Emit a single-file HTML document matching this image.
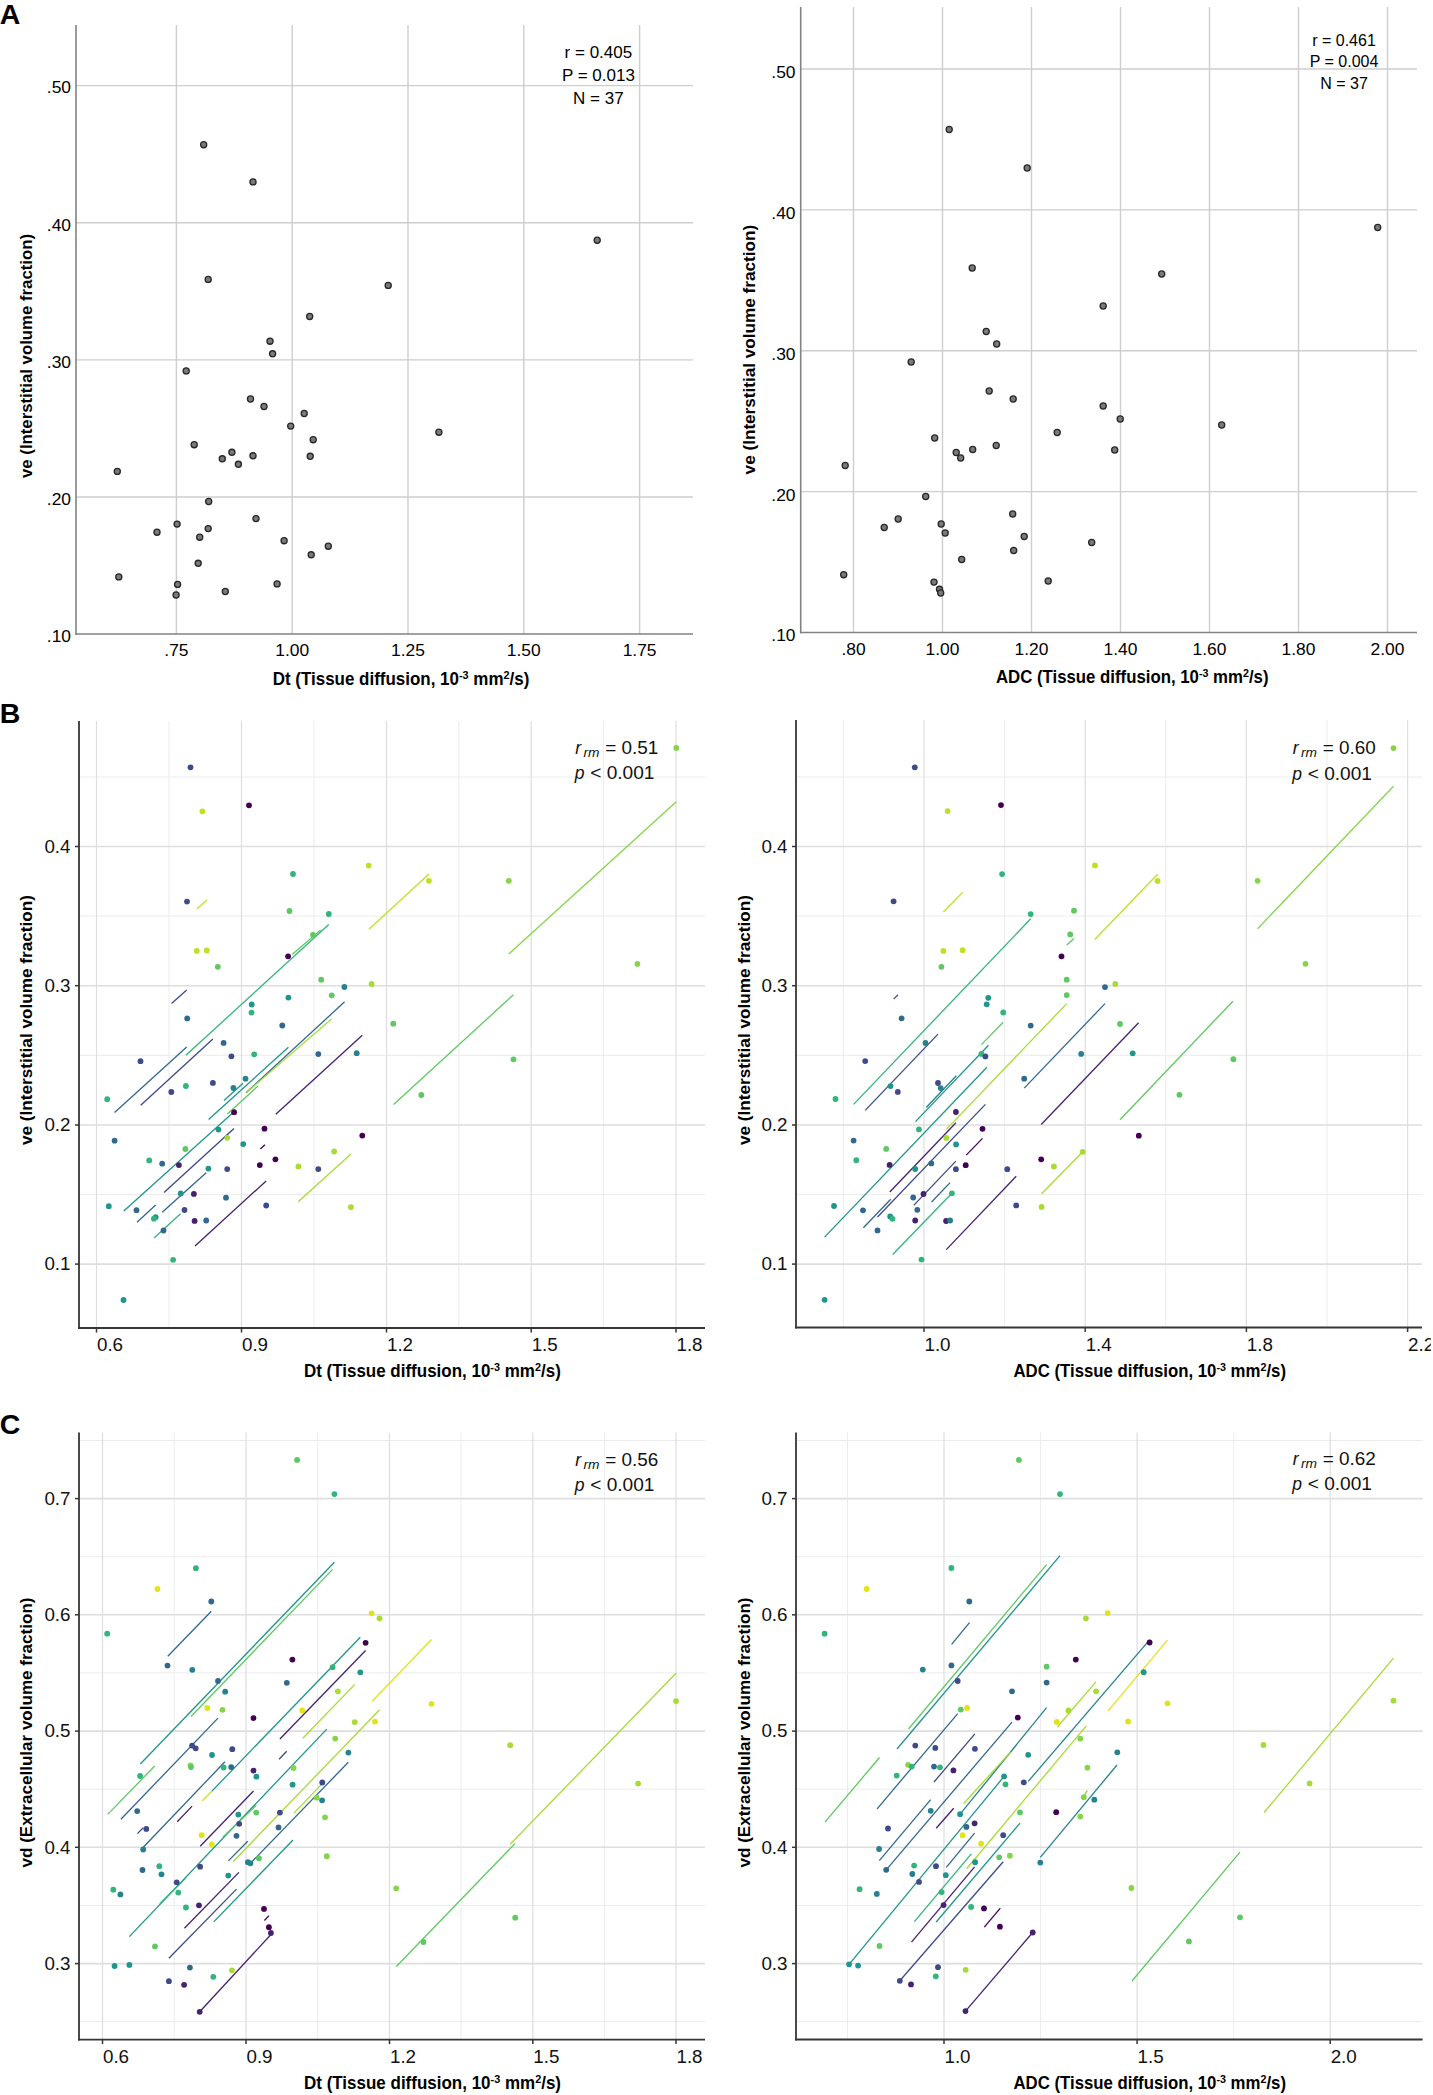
<!DOCTYPE html><html><head><meta charset="utf-8"><title>Figure</title>
<style>html,body{margin:0;padding:0;background:#fff;width:1433px;height:2095px;overflow:hidden;}svg{display:block;font-family:"Liberation Sans", sans-serif;}</style></head><body>
<svg width="1433" height="2095" viewBox="0 0 1433 2095">
<rect width="1433" height="2095" fill="#fff"/>
<text x="-0.3" y="23.9" font-size="28.5" font-weight="bold" fill="#000">A</text>
<text x="-0.2" y="722.9" font-size="28.5" font-weight="bold" fill="#000">B</text>
<text x="-0.2" y="1434.3" font-size="28.5" font-weight="bold" fill="#000">C</text>
<line x1="76" y1="85.6" x2="693" y2="85.6" stroke="#cecece" stroke-width="1.4"/>
<line x1="76" y1="222.7" x2="693" y2="222.7" stroke="#cecece" stroke-width="1.4"/>
<line x1="76" y1="359.9" x2="693" y2="359.9" stroke="#cecece" stroke-width="1.4"/>
<line x1="76" y1="497" x2="693" y2="497" stroke="#cecece" stroke-width="1.4"/>
<line x1="176.4" y1="25" x2="176.4" y2="634" stroke="#cecece" stroke-width="1.4"/>
<line x1="292.2" y1="25" x2="292.2" y2="634" stroke="#cecece" stroke-width="1.4"/>
<line x1="408" y1="25" x2="408" y2="634" stroke="#cecece" stroke-width="1.4"/>
<line x1="523.8" y1="25" x2="523.8" y2="634" stroke="#cecece" stroke-width="1.4"/>
<line x1="639.6" y1="25" x2="639.6" y2="634" stroke="#cecece" stroke-width="1.4"/>
<line x1="76" y1="25" x2="76" y2="634.7" stroke="#828282" stroke-width="1.6"/>
<line x1="75.3" y1="634" x2="693" y2="634" stroke="#828282" stroke-width="1.6"/>
<text x="71" y="93.4" font-size="17.4" text-anchor="end" fill="#000">.50</text>
<text x="71" y="230.5" font-size="17.4" text-anchor="end" fill="#000">.40</text>
<text x="71" y="367.7" font-size="17.4" text-anchor="end" fill="#000">.30</text>
<text x="71" y="504.8" font-size="17.4" text-anchor="end" fill="#000">.20</text>
<text x="71" y="641.8" font-size="17.4" text-anchor="end" fill="#000">.10</text>
<text x="176.4" y="655.8" font-size="17.4" text-anchor="middle" fill="#000">.75</text>
<text x="292.2" y="655.8" font-size="17.4" text-anchor="middle" fill="#000">1.00</text>
<text x="408" y="655.8" font-size="17.4" text-anchor="middle" fill="#000">1.25</text>
<text x="523.8" y="655.8" font-size="17.4" text-anchor="middle" fill="#000">1.50</text>
<text x="639.6" y="655.8" font-size="17.4" text-anchor="middle" fill="#000">1.75</text>
<circle cx="203.7" cy="144.7" r="3.05" fill="#7a7a7a" stroke="#262626" stroke-width="1.3"/>
<circle cx="253" cy="181.9" r="3.05" fill="#7a7a7a" stroke="#262626" stroke-width="1.3"/>
<circle cx="597.2" cy="240.2" r="3.05" fill="#7a7a7a" stroke="#262626" stroke-width="1.3"/>
<circle cx="208.2" cy="279.4" r="3.05" fill="#7a7a7a" stroke="#262626" stroke-width="1.3"/>
<circle cx="388.2" cy="285.4" r="3.05" fill="#7a7a7a" stroke="#262626" stroke-width="1.3"/>
<circle cx="309.7" cy="316.5" r="3.05" fill="#7a7a7a" stroke="#262626" stroke-width="1.3"/>
<circle cx="270" cy="341.2" r="3.05" fill="#7a7a7a" stroke="#262626" stroke-width="1.3"/>
<circle cx="272.6" cy="353.8" r="3.05" fill="#7a7a7a" stroke="#262626" stroke-width="1.3"/>
<circle cx="186.2" cy="370.9" r="3.05" fill="#7a7a7a" stroke="#262626" stroke-width="1.3"/>
<circle cx="250.5" cy="399" r="3.05" fill="#7a7a7a" stroke="#262626" stroke-width="1.3"/>
<circle cx="264" cy="406.5" r="3.05" fill="#7a7a7a" stroke="#262626" stroke-width="1.3"/>
<circle cx="304.2" cy="413.5" r="3.05" fill="#7a7a7a" stroke="#262626" stroke-width="1.3"/>
<circle cx="290.7" cy="426.1" r="3.05" fill="#7a7a7a" stroke="#262626" stroke-width="1.3"/>
<circle cx="438.9" cy="432.2" r="3.05" fill="#7a7a7a" stroke="#262626" stroke-width="1.3"/>
<circle cx="313.2" cy="439.7" r="3.05" fill="#7a7a7a" stroke="#262626" stroke-width="1.3"/>
<circle cx="194.2" cy="444.7" r="3.05" fill="#7a7a7a" stroke="#262626" stroke-width="1.3"/>
<circle cx="231.9" cy="452.3" r="3.05" fill="#7a7a7a" stroke="#262626" stroke-width="1.3"/>
<circle cx="222.3" cy="458.8" r="3.05" fill="#7a7a7a" stroke="#262626" stroke-width="1.3"/>
<circle cx="253" cy="455.8" r="3.05" fill="#7a7a7a" stroke="#262626" stroke-width="1.3"/>
<circle cx="310.2" cy="456.3" r="3.05" fill="#7a7a7a" stroke="#262626" stroke-width="1.3"/>
<circle cx="238.4" cy="464.3" r="3.05" fill="#7a7a7a" stroke="#262626" stroke-width="1.3"/>
<circle cx="117.3" cy="471.4" r="3.05" fill="#7a7a7a" stroke="#262626" stroke-width="1.3"/>
<circle cx="208.7" cy="501.5" r="3.05" fill="#7a7a7a" stroke="#262626" stroke-width="1.3"/>
<circle cx="256" cy="518.6" r="3.05" fill="#7a7a7a" stroke="#262626" stroke-width="1.3"/>
<circle cx="177.1" cy="524.1" r="3.05" fill="#7a7a7a" stroke="#262626" stroke-width="1.3"/>
<circle cx="157" cy="532.2" r="3.05" fill="#7a7a7a" stroke="#262626" stroke-width="1.3"/>
<circle cx="208.2" cy="528.6" r="3.05" fill="#7a7a7a" stroke="#262626" stroke-width="1.3"/>
<circle cx="199.7" cy="537.2" r="3.05" fill="#7a7a7a" stroke="#262626" stroke-width="1.3"/>
<circle cx="284.1" cy="540.7" r="3.05" fill="#7a7a7a" stroke="#262626" stroke-width="1.3"/>
<circle cx="328.3" cy="546.2" r="3.05" fill="#7a7a7a" stroke="#262626" stroke-width="1.3"/>
<circle cx="311.2" cy="554.8" r="3.05" fill="#7a7a7a" stroke="#262626" stroke-width="1.3"/>
<circle cx="198.2" cy="563.3" r="3.05" fill="#7a7a7a" stroke="#262626" stroke-width="1.3"/>
<circle cx="118.8" cy="576.9" r="3.05" fill="#7a7a7a" stroke="#262626" stroke-width="1.3"/>
<circle cx="177.6" cy="584.4" r="3.05" fill="#7a7a7a" stroke="#262626" stroke-width="1.3"/>
<circle cx="277.1" cy="583.9" r="3.05" fill="#7a7a7a" stroke="#262626" stroke-width="1.3"/>
<circle cx="225.3" cy="591.5" r="3.05" fill="#7a7a7a" stroke="#262626" stroke-width="1.3"/>
<circle cx="176.1" cy="595" r="3.05" fill="#7a7a7a" stroke="#262626" stroke-width="1.3"/>
<text x="598.4" y="57.7" font-size="17" text-anchor="middle" fill="#000">r = 0.405</text>
<text x="598.4" y="80.7" font-size="17" text-anchor="middle" fill="#000">P = 0.013</text>
<text x="598.4" y="103.8" font-size="17" text-anchor="middle" fill="#000">N = 37</text>
<text x="272.7" y="685.3" font-size="18" font-weight="bold" textLength="256.6" lengthAdjust="spacingAndGlyphs" fill="#000">Dt (Tissue diffusion, 10<tspan dy="-6.5" font-size="11.5">-3</tspan><tspan dy="6.5"> mm</tspan><tspan dy="-6.5" font-size="11.5">2</tspan><tspan dy="6.5">/s)</tspan></text>
<text transform="translate(31.7,478) rotate(-90)" x="0" y="0" font-size="17.2" font-weight="bold" textLength="244" lengthAdjust="spacingAndGlyphs" fill="#000">ve (Interstitial volume fraction)</text>
<line x1="800.7" y1="69" x2="1417" y2="69" stroke="#cecece" stroke-width="1.4"/>
<line x1="800.7" y1="209.9" x2="1417" y2="209.9" stroke="#cecece" stroke-width="1.4"/>
<line x1="800.7" y1="350.8" x2="1417" y2="350.8" stroke="#cecece" stroke-width="1.4"/>
<line x1="800.7" y1="491.6" x2="1417" y2="491.6" stroke="#cecece" stroke-width="1.4"/>
<line x1="853.5" y1="7" x2="853.5" y2="632.5" stroke="#cecece" stroke-width="1.4"/>
<line x1="942.5" y1="7" x2="942.5" y2="632.5" stroke="#cecece" stroke-width="1.4"/>
<line x1="1031.5" y1="7" x2="1031.5" y2="632.5" stroke="#cecece" stroke-width="1.4"/>
<line x1="1120.5" y1="7" x2="1120.5" y2="632.5" stroke="#cecece" stroke-width="1.4"/>
<line x1="1209.5" y1="7" x2="1209.5" y2="632.5" stroke="#cecece" stroke-width="1.4"/>
<line x1="1298.5" y1="7" x2="1298.5" y2="632.5" stroke="#cecece" stroke-width="1.4"/>
<line x1="1387.5" y1="7" x2="1387.5" y2="632.5" stroke="#cecece" stroke-width="1.4"/>
<line x1="800.7" y1="7" x2="800.7" y2="633.2" stroke="#828282" stroke-width="1.6"/>
<line x1="800" y1="632.5" x2="1417" y2="632.5" stroke="#828282" stroke-width="1.6"/>
<text x="795.5" y="77.9" font-size="17.4" text-anchor="end" fill="#000">.50</text>
<text x="795.5" y="218.8" font-size="17.4" text-anchor="end" fill="#000">.40</text>
<text x="795.5" y="359.7" font-size="17.4" text-anchor="end" fill="#000">.30</text>
<text x="795.5" y="500.5" font-size="17.4" text-anchor="end" fill="#000">.20</text>
<text x="795.5" y="641.4" font-size="17.4" text-anchor="end" fill="#000">.10</text>
<text x="853.5" y="655" font-size="17.4" text-anchor="middle" fill="#000">.80</text>
<text x="942.5" y="655" font-size="17.4" text-anchor="middle" fill="#000">1.00</text>
<text x="1031.5" y="655" font-size="17.4" text-anchor="middle" fill="#000">1.20</text>
<text x="1120.5" y="655" font-size="17.4" text-anchor="middle" fill="#000">1.40</text>
<text x="1209.5" y="655" font-size="17.4" text-anchor="middle" fill="#000">1.60</text>
<text x="1298.5" y="655" font-size="17.4" text-anchor="middle" fill="#000">1.80</text>
<text x="1387.5" y="655" font-size="17.4" text-anchor="middle" fill="#000">2.00</text>
<circle cx="949.2" cy="129.5" r="3.05" fill="#7a7a7a" stroke="#262626" stroke-width="1.3"/>
<circle cx="1027.2" cy="168" r="3.05" fill="#7a7a7a" stroke="#262626" stroke-width="1.3"/>
<circle cx="1377.7" cy="227.5" r="3.05" fill="#7a7a7a" stroke="#262626" stroke-width="1.3"/>
<circle cx="972.2" cy="268" r="3.05" fill="#7a7a7a" stroke="#262626" stroke-width="1.3"/>
<circle cx="1161.7" cy="274" r="3.05" fill="#7a7a7a" stroke="#262626" stroke-width="1.3"/>
<circle cx="1103.2" cy="306" r="3.05" fill="#7a7a7a" stroke="#262626" stroke-width="1.3"/>
<circle cx="986.2" cy="331.5" r="3.05" fill="#7a7a7a" stroke="#262626" stroke-width="1.3"/>
<circle cx="996.7" cy="344" r="3.05" fill="#7a7a7a" stroke="#262626" stroke-width="1.3"/>
<circle cx="911.2" cy="362" r="3.05" fill="#7a7a7a" stroke="#262626" stroke-width="1.3"/>
<circle cx="989.2" cy="391" r="3.05" fill="#7a7a7a" stroke="#262626" stroke-width="1.3"/>
<circle cx="1013.2" cy="399" r="3.05" fill="#7a7a7a" stroke="#262626" stroke-width="1.3"/>
<circle cx="1103.2" cy="406" r="3.05" fill="#7a7a7a" stroke="#262626" stroke-width="1.3"/>
<circle cx="1120.2" cy="419" r="3.05" fill="#7a7a7a" stroke="#262626" stroke-width="1.3"/>
<circle cx="1221.7" cy="425" r="3.05" fill="#7a7a7a" stroke="#262626" stroke-width="1.3"/>
<circle cx="1057.2" cy="432.5" r="3.05" fill="#7a7a7a" stroke="#262626" stroke-width="1.3"/>
<circle cx="934.7" cy="438" r="3.05" fill="#7a7a7a" stroke="#262626" stroke-width="1.3"/>
<circle cx="996.2" cy="445.5" r="3.05" fill="#7a7a7a" stroke="#262626" stroke-width="1.3"/>
<circle cx="972.7" cy="449.5" r="3.05" fill="#7a7a7a" stroke="#262626" stroke-width="1.3"/>
<circle cx="956.2" cy="452.5" r="3.05" fill="#7a7a7a" stroke="#262626" stroke-width="1.3"/>
<circle cx="960.7" cy="458" r="3.05" fill="#7a7a7a" stroke="#262626" stroke-width="1.3"/>
<circle cx="1114.7" cy="450" r="3.05" fill="#7a7a7a" stroke="#262626" stroke-width="1.3"/>
<circle cx="845.2" cy="465.5" r="3.05" fill="#7a7a7a" stroke="#262626" stroke-width="1.3"/>
<circle cx="925.7" cy="496.5" r="3.05" fill="#7a7a7a" stroke="#262626" stroke-width="1.3"/>
<circle cx="1012.7" cy="514" r="3.05" fill="#7a7a7a" stroke="#262626" stroke-width="1.3"/>
<circle cx="898.2" cy="519" r="3.05" fill="#7a7a7a" stroke="#262626" stroke-width="1.3"/>
<circle cx="884.2" cy="527.5" r="3.05" fill="#7a7a7a" stroke="#262626" stroke-width="1.3"/>
<circle cx="941.2" cy="524" r="3.05" fill="#7a7a7a" stroke="#262626" stroke-width="1.3"/>
<circle cx="945.2" cy="533" r="3.05" fill="#7a7a7a" stroke="#262626" stroke-width="1.3"/>
<circle cx="1024.2" cy="536.5" r="3.05" fill="#7a7a7a" stroke="#262626" stroke-width="1.3"/>
<circle cx="1091.7" cy="542.5" r="3.05" fill="#7a7a7a" stroke="#262626" stroke-width="1.3"/>
<circle cx="1013.7" cy="550.5" r="3.05" fill="#7a7a7a" stroke="#262626" stroke-width="1.3"/>
<circle cx="961.7" cy="559.5" r="3.05" fill="#7a7a7a" stroke="#262626" stroke-width="1.3"/>
<circle cx="843.7" cy="574.7" r="3.05" fill="#7a7a7a" stroke="#262626" stroke-width="1.3"/>
<circle cx="934" cy="582.1" r="3.05" fill="#7a7a7a" stroke="#262626" stroke-width="1.3"/>
<circle cx="1048.2" cy="581" r="3.05" fill="#7a7a7a" stroke="#262626" stroke-width="1.3"/>
<circle cx="939.5" cy="589.3" r="3.05" fill="#7a7a7a" stroke="#262626" stroke-width="1.3"/>
<circle cx="940.7" cy="593" r="3.05" fill="#7a7a7a" stroke="#262626" stroke-width="1.3"/>
<text x="1344" y="45.7" font-size="16" text-anchor="middle" fill="#000">r = 0.461</text>
<text x="1344" y="67.3" font-size="16" text-anchor="middle" fill="#000">P = 0.004</text>
<text x="1344" y="88.8" font-size="16" text-anchor="middle" fill="#000">N = 37</text>
<text x="996" y="683.3" font-size="18" font-weight="bold" textLength="272.5" lengthAdjust="spacingAndGlyphs" fill="#000">ADC (Tissue diffusion, 10<tspan dy="-6.5" font-size="11.5">-3</tspan><tspan dy="6.5"> mm</tspan><tspan dy="-6.5" font-size="11.5">2</tspan><tspan dy="6.5">/s)</tspan></text>
<text transform="translate(755.2,474.4) rotate(-90)" x="0" y="0" font-size="17.2" font-weight="bold" textLength="249.6" lengthAdjust="spacingAndGlyphs" fill="#000">ve (Interstitial volume fraction)</text>
<line x1="79" y1="777" x2="705" y2="777" stroke="#ececec" stroke-width="1.0"/>
<line x1="79" y1="916.1" x2="705" y2="916.1" stroke="#ececec" stroke-width="1.0"/>
<line x1="79" y1="1055.3" x2="705" y2="1055.3" stroke="#ececec" stroke-width="1.0"/>
<line x1="79" y1="1194.5" x2="705" y2="1194.5" stroke="#ececec" stroke-width="1.0"/>
<line x1="169" y1="721" x2="169" y2="1328" stroke="#ececec" stroke-width="1.0"/>
<line x1="314" y1="721" x2="314" y2="1328" stroke="#ececec" stroke-width="1.0"/>
<line x1="458.8" y1="721" x2="458.8" y2="1328" stroke="#ececec" stroke-width="1.0"/>
<line x1="603.6" y1="721" x2="603.6" y2="1328" stroke="#ececec" stroke-width="1.0"/>
<line x1="79" y1="846.5" x2="705" y2="846.5" stroke="#dedede" stroke-width="1.6"/>
<line x1="79" y1="985.7" x2="705" y2="985.7" stroke="#dedede" stroke-width="1.6"/>
<line x1="79" y1="1125" x2="705" y2="1125" stroke="#dedede" stroke-width="1.6"/>
<line x1="79" y1="1264.1" x2="705" y2="1264.1" stroke="#dedede" stroke-width="1.6"/>
<line x1="96.5" y1="721" x2="96.5" y2="1328" stroke="#dedede" stroke-width="1.2"/>
<line x1="241.5" y1="721" x2="241.5" y2="1328" stroke="#dedede" stroke-width="1.2"/>
<line x1="386.5" y1="721" x2="386.5" y2="1328" stroke="#dedede" stroke-width="1.2"/>
<line x1="531.2" y1="721" x2="531.2" y2="1328" stroke="#dedede" stroke-width="1.2"/>
<line x1="676" y1="721" x2="676" y2="1328" stroke="#dedede" stroke-width="1.2"/>
<line x1="171.6" y1="1003.4" x2="186.7" y2="990" stroke="#3e4a89" stroke-width="1.3"/>
<line x1="185.9" y1="1055.2" x2="328.8" y2="924.6" stroke="#31b57b" stroke-width="1.3"/>
<line x1="292.1" y1="954.5" x2="320.7" y2="929.9" stroke="#5ec962" stroke-width="1.3"/>
<line x1="114.6" y1="1112.4" x2="186.7" y2="1047" stroke="#31688e" stroke-width="1.3"/>
<line x1="140.7" y1="1105.2" x2="212.9" y2="1039.1" stroke="#3e4a89" stroke-width="1.3"/>
<line x1="224" y1="1100.5" x2="243" y2="1083.3" stroke="#1f958b" stroke-width="1.3"/>
<line x1="208.6" y1="1119.5" x2="288.4" y2="1047.2" stroke="#1f958b" stroke-width="1.3"/>
<line x1="246.1" y1="1092.7" x2="344.6" y2="1001.8" stroke="#31688e" stroke-width="1.3"/>
<line x1="246.5" y1="1092.5" x2="331.5" y2="1019" stroke="#a8db34" stroke-width="1.3"/>
<line x1="227.4" y1="1113.9" x2="258" y2="1086" stroke="#5ec962" stroke-width="1.3"/>
<line x1="275.8" y1="1114.2" x2="362.3" y2="1035.3" stroke="#46216f" stroke-width="1.3"/>
<line x1="123.8" y1="1211" x2="234" y2="1111.7" stroke="#1f958b" stroke-width="1.3"/>
<line x1="164" y1="1192.5" x2="234" y2="1128.5" stroke="#3e4a89" stroke-width="1.3"/>
<line x1="162.2" y1="1212.2" x2="206.2" y2="1172.7" stroke="#31688e" stroke-width="1.3"/>
<line x1="137" y1="1222.2" x2="155.7" y2="1205" stroke="#31688e" stroke-width="1.3"/>
<line x1="154.1" y1="1237.9" x2="180.5" y2="1213.8" stroke="#31b57b" stroke-width="1.3"/>
<line x1="195" y1="1246.1" x2="266.2" y2="1180.9" stroke="#46216f" stroke-width="1.3"/>
<line x1="298.2" y1="1201.7" x2="350.9" y2="1154.1" stroke="#a8db34" stroke-width="1.3"/>
<line x1="260.4" y1="1149" x2="264.9" y2="1144.8" stroke="#440154" stroke-width="1.3"/>
<line x1="196.8" y1="909.1" x2="206.8" y2="900" stroke="#c2df23" stroke-width="1.3"/>
<line x1="369" y1="929.2" x2="428.9" y2="874.1" stroke="#c2df23" stroke-width="1.3"/>
<line x1="508.8" y1="954" x2="676.3" y2="801.7" stroke="#86d549" stroke-width="1.3"/>
<line x1="393.6" y1="1104.4" x2="513.5" y2="994.7" stroke="#5ec962" stroke-width="1.3"/>
<circle cx="190.5" cy="767.3" r="2.9" fill="#3e4a89"/>
<circle cx="202.4" cy="811.3" r="2.9" fill="#c2df23"/>
<circle cx="249" cy="805.3" r="2.9" fill="#440154"/>
<circle cx="293" cy="874" r="2.9" fill="#31b57b"/>
<circle cx="368.7" cy="865.6" r="2.9" fill="#c2df23"/>
<circle cx="187" cy="901.6" r="2.9" fill="#3e4a89"/>
<circle cx="289.5" cy="911" r="2.9" fill="#5ec962"/>
<circle cx="328.8" cy="914" r="2.9" fill="#31b57b"/>
<circle cx="313" cy="934.8" r="2.9" fill="#5ec962"/>
<circle cx="196.8" cy="950.9" r="2.9" fill="#c2df23"/>
<circle cx="206.8" cy="950.5" r="2.9" fill="#c2df23"/>
<circle cx="217.8" cy="966.8" r="2.9" fill="#5ec962"/>
<circle cx="288.1" cy="956.3" r="2.9" fill="#440154"/>
<circle cx="321.2" cy="979.7" r="2.9" fill="#5ec962"/>
<circle cx="344.4" cy="987" r="2.9" fill="#26828e"/>
<circle cx="371.6" cy="984" r="2.9" fill="#a8db34"/>
<circle cx="331.7" cy="995.3" r="2.9" fill="#5ec962"/>
<circle cx="288.4" cy="997.6" r="2.9" fill="#1f958b"/>
<circle cx="251.7" cy="1004.5" r="2.9" fill="#1f958b"/>
<circle cx="251.5" cy="1012.6" r="2.9" fill="#31b57b"/>
<circle cx="187.2" cy="1018.4" r="2.9" fill="#31688e"/>
<circle cx="282.3" cy="1025.5" r="2.9" fill="#31688e"/>
<circle cx="393.3" cy="1023.7" r="2.9" fill="#5ec962"/>
<circle cx="223.6" cy="1042.9" r="2.9" fill="#31688e"/>
<circle cx="231.4" cy="1056.3" r="2.9" fill="#3e4a89"/>
<circle cx="254.2" cy="1054.3" r="2.9" fill="#31b57b"/>
<circle cx="318.3" cy="1054.1" r="2.9" fill="#31688e"/>
<circle cx="356.7" cy="1053.2" r="2.9" fill="#26828e"/>
<circle cx="140.5" cy="1061.2" r="2.9" fill="#3e4a89"/>
<circle cx="107.2" cy="1099.2" r="2.9" fill="#31b57b"/>
<circle cx="185.9" cy="1086" r="2.9" fill="#31b57b"/>
<circle cx="171.3" cy="1092" r="2.9" fill="#3e4a89"/>
<circle cx="212.9" cy="1082.9" r="2.9" fill="#3e4a89"/>
<circle cx="245.5" cy="1078.7" r="2.9" fill="#26828e"/>
<circle cx="233.4" cy="1088" r="2.9" fill="#26828e"/>
<circle cx="234.1" cy="1112.2" r="2.9" fill="#440154"/>
<circle cx="264.5" cy="1128.7" r="2.9" fill="#440154"/>
<circle cx="362.3" cy="1135.6" r="2.9" fill="#440154"/>
<circle cx="114.6" cy="1140.7" r="2.9" fill="#31688e"/>
<circle cx="218.5" cy="1129.6" r="2.9" fill="#1f958b"/>
<circle cx="227.2" cy="1137.8" r="2.9" fill="#a8db34"/>
<circle cx="243.2" cy="1144.1" r="2.9" fill="#1f958b"/>
<circle cx="185.4" cy="1149" r="2.9" fill="#5ec962"/>
<circle cx="149.2" cy="1160.4" r="2.9" fill="#31b57b"/>
<circle cx="162.2" cy="1163.7" r="2.9" fill="#31688e"/>
<circle cx="178.9" cy="1165.1" r="2.9" fill="#46216f"/>
<circle cx="208.4" cy="1168.6" r="2.9" fill="#1f958b"/>
<circle cx="227.2" cy="1169.1" r="2.9" fill="#3e4a89"/>
<circle cx="259.8" cy="1165.1" r="2.9" fill="#440154"/>
<circle cx="275.4" cy="1159.3" r="2.9" fill="#440154"/>
<circle cx="298.4" cy="1166.4" r="2.9" fill="#a8db34"/>
<circle cx="334.1" cy="1151.5" r="2.9" fill="#a8db34"/>
<circle cx="318.3" cy="1169.1" r="2.9" fill="#3e4a89"/>
<circle cx="108.8" cy="1206.2" r="2.9" fill="#1f958b"/>
<circle cx="136.5" cy="1210.2" r="2.9" fill="#31688e"/>
<circle cx="180.7" cy="1193.4" r="2.9" fill="#1f958b"/>
<circle cx="193.9" cy="1193.9" r="2.9" fill="#46216f"/>
<circle cx="226" cy="1197.7" r="2.9" fill="#31688e"/>
<circle cx="184.5" cy="1210" r="2.9" fill="#3e4a89"/>
<circle cx="155.7" cy="1217.1" r="2.9" fill="#1f958b"/>
<circle cx="153.9" cy="1218.7" r="2.9" fill="#31b57b"/>
<circle cx="194.6" cy="1220.9" r="2.9" fill="#46216f"/>
<circle cx="206.2" cy="1220.5" r="2.9" fill="#31688e"/>
<circle cx="163.5" cy="1230.5" r="2.9" fill="#31688e"/>
<circle cx="266.2" cy="1205.5" r="2.9" fill="#3e4a89"/>
<circle cx="350.9" cy="1207.1" r="2.9" fill="#a8db34"/>
<circle cx="173.1" cy="1259.8" r="2.9" fill="#31b57b"/>
<circle cx="123.5" cy="1300" r="2.9" fill="#1f958b"/>
<circle cx="676.3" cy="747.9" r="2.9" fill="#86d549"/>
<circle cx="428.9" cy="880.8" r="2.9" fill="#c2df23"/>
<circle cx="508.8" cy="880.8" r="2.9" fill="#86d549"/>
<circle cx="637.4" cy="963.9" r="2.9" fill="#86d549"/>
<circle cx="513.5" cy="1059.3" r="2.9" fill="#5ec962"/>
<circle cx="421.3" cy="1095" r="2.9" fill="#5ec962"/>
<line x1="79" y1="721" x2="79" y2="1328.9" stroke="#363636" stroke-width="1.8"/>
<line x1="78.1" y1="1328" x2="705" y2="1328" stroke="#363636" stroke-width="1.8"/>
<line x1="75" y1="846.5" x2="79" y2="846.5" stroke="#363636" stroke-width="1.5"/>
<line x1="75" y1="985.7" x2="79" y2="985.7" stroke="#363636" stroke-width="1.5"/>
<line x1="75" y1="1125" x2="79" y2="1125" stroke="#363636" stroke-width="1.5"/>
<line x1="75" y1="1264.1" x2="79" y2="1264.1" stroke="#363636" stroke-width="1.5"/>
<line x1="96.5" y1="1328" x2="96.5" y2="1332.5" stroke="#363636" stroke-width="1.5"/>
<line x1="241.5" y1="1328" x2="241.5" y2="1332.5" stroke="#363636" stroke-width="1.5"/>
<line x1="386.5" y1="1328" x2="386.5" y2="1332.5" stroke="#363636" stroke-width="1.5"/>
<line x1="531.2" y1="1328" x2="531.2" y2="1332.5" stroke="#363636" stroke-width="1.5"/>
<line x1="676" y1="1328" x2="676" y2="1332.5" stroke="#363636" stroke-width="1.5"/>
<text x="70.5" y="852.8" font-size="17.5" text-anchor="end" textLength="26.1" lengthAdjust="spacingAndGlyphs" fill="#111">0.4</text>
<text x="70.5" y="992" font-size="17.5" text-anchor="end" textLength="26.1" lengthAdjust="spacingAndGlyphs" fill="#111">0.3</text>
<text x="70.5" y="1131.3" font-size="17.5" text-anchor="end" textLength="26.1" lengthAdjust="spacingAndGlyphs" fill="#111">0.2</text>
<text x="70.5" y="1270.4" font-size="17.5" text-anchor="end" textLength="26.1" lengthAdjust="spacingAndGlyphs" fill="#111">0.1</text>
<text x="110" y="1351.3" font-size="17.5" text-anchor="middle" textLength="26.1" lengthAdjust="spacingAndGlyphs" fill="#111">0.6</text>
<text x="255" y="1351.3" font-size="17.5" text-anchor="middle" textLength="26.1" lengthAdjust="spacingAndGlyphs" fill="#111">0.9</text>
<text x="400" y="1351.3" font-size="17.5" text-anchor="middle" textLength="26.1" lengthAdjust="spacingAndGlyphs" fill="#111">1.2</text>
<text x="544.7" y="1351.3" font-size="17.5" text-anchor="middle" textLength="26.1" lengthAdjust="spacingAndGlyphs" fill="#111">1.5</text>
<text x="689.5" y="1351.3" font-size="17.5" text-anchor="middle" textLength="26.1" lengthAdjust="spacingAndGlyphs" fill="#111">1.8</text>
<text x="575.2" y="753.5" font-size="17.5" font-style="italic" fill="#111">r</text>
<text x="583.5" y="756.7" font-size="12.5" font-style="italic" textLength="16" lengthAdjust="spacingAndGlyphs" fill="#111">rm</text>
<text x="605.3" y="753.5" font-size="17.5" textLength="53.1" lengthAdjust="spacingAndGlyphs" fill="#111">= 0.51</text>
<text x="574.7" y="779.2" font-size="17.5" font-style="italic" fill="#111">p</text>
<text x="590.2" y="779.2" font-size="17.5" textLength="64.3" lengthAdjust="spacingAndGlyphs" fill="#111">&lt; 0.001</text>
<text x="303.9" y="1377.2" font-size="18" font-weight="bold" textLength="256.9" lengthAdjust="spacingAndGlyphs" fill="#000">Dt (Tissue diffusion, 10<tspan dy="-6.5" font-size="11.5">-3</tspan><tspan dy="6.5"> mm</tspan><tspan dy="-6.5" font-size="11.5">2</tspan><tspan dy="6.5">/s)</tspan></text>
<text transform="translate(31.7,1145) rotate(-90)" x="0" y="0" font-size="17.2" font-weight="bold" textLength="250" lengthAdjust="spacingAndGlyphs" fill="#000">ve (Interstitial volume fraction)</text>
<line x1="796" y1="777" x2="1422" y2="777" stroke="#ececec" stroke-width="1.0"/>
<line x1="796" y1="916.1" x2="1422" y2="916.1" stroke="#ececec" stroke-width="1.0"/>
<line x1="796" y1="1055.3" x2="1422" y2="1055.3" stroke="#ececec" stroke-width="1.0"/>
<line x1="796" y1="1194.5" x2="1422" y2="1194.5" stroke="#ececec" stroke-width="1.0"/>
<line x1="843.4" y1="720" x2="843.4" y2="1327.5" stroke="#ececec" stroke-width="1.0"/>
<line x1="1004.6" y1="720" x2="1004.6" y2="1327.5" stroke="#ececec" stroke-width="1.0"/>
<line x1="1165.8" y1="720" x2="1165.8" y2="1327.5" stroke="#ececec" stroke-width="1.0"/>
<line x1="1327" y1="720" x2="1327" y2="1327.5" stroke="#ececec" stroke-width="1.0"/>
<line x1="796" y1="846.5" x2="1422" y2="846.5" stroke="#dedede" stroke-width="1.6"/>
<line x1="796" y1="985.7" x2="1422" y2="985.7" stroke="#dedede" stroke-width="1.6"/>
<line x1="796" y1="1125" x2="1422" y2="1125" stroke="#dedede" stroke-width="1.6"/>
<line x1="796" y1="1264.1" x2="1422" y2="1264.1" stroke="#dedede" stroke-width="1.6"/>
<line x1="924" y1="720" x2="924" y2="1327.5" stroke="#dedede" stroke-width="1.2"/>
<line x1="1085.2" y1="720" x2="1085.2" y2="1327.5" stroke="#dedede" stroke-width="1.2"/>
<line x1="1246.4" y1="720" x2="1246.4" y2="1327.5" stroke="#dedede" stroke-width="1.2"/>
<line x1="1407.6" y1="720" x2="1407.6" y2="1327.5" stroke="#dedede" stroke-width="1.2"/>
<line x1="943.4" y1="912" x2="962.6" y2="892.4" stroke="#c2df23" stroke-width="1.3"/>
<line x1="853.6" y1="1104.4" x2="1030.7" y2="918.8" stroke="#31b57b" stroke-width="1.3"/>
<line x1="1066.7" y1="945.1" x2="1074" y2="938.4" stroke="#5ec962" stroke-width="1.3"/>
<line x1="1094.8" y1="939.5" x2="1157.6" y2="874.2" stroke="#c2df23" stroke-width="1.3"/>
<line x1="893.6" y1="999.1" x2="898" y2="994.7" stroke="#3e4a89" stroke-width="1.3"/>
<line x1="981.4" y1="1044.6" x2="1003.2" y2="1022.2" stroke="#5ec962" stroke-width="1.3"/>
<line x1="946.3" y1="1129.4" x2="1066.7" y2="1003.6" stroke="#a8db34" stroke-width="1.3"/>
<line x1="1024.2" y1="1088.1" x2="1105" y2="1003.6" stroke="#31688e" stroke-width="1.3"/>
<line x1="865.2" y1="1110.4" x2="938" y2="1034.1" stroke="#3e4a89" stroke-width="1.3"/>
<line x1="915.5" y1="1121.6" x2="988.5" y2="1045.2" stroke="#1f958b" stroke-width="1.3"/>
<line x1="926.2" y1="1107.5" x2="956.3" y2="1075.8" stroke="#26828e" stroke-width="1.3"/>
<line x1="1041.2" y1="1124.5" x2="1138.6" y2="1022.7" stroke="#46216f" stroke-width="1.3"/>
<line x1="824.6" y1="1237.1" x2="986.9" y2="1067.3" stroke="#1f958b" stroke-width="1.3"/>
<line x1="889.8" y1="1192" x2="955.9" y2="1122.7" stroke="#46216f" stroke-width="1.3"/>
<line x1="877.5" y1="1217" x2="985.4" y2="1104.4" stroke="#3e4a89" stroke-width="1.3"/>
<line x1="863.4" y1="1227.7" x2="890.7" y2="1199.3" stroke="#31688e" stroke-width="1.3"/>
<line x1="913.7" y1="1205.4" x2="955.9" y2="1161.1" stroke="#3e4a89" stroke-width="1.3"/>
<line x1="931.6" y1="1202" x2="950.1" y2="1182.6" stroke="#31688e" stroke-width="1.3"/>
<line x1="892.7" y1="1254.5" x2="951.9" y2="1193.3" stroke="#31b57b" stroke-width="1.3"/>
<line x1="946.3" y1="1249.6" x2="1016.2" y2="1176.3" stroke="#46216f" stroke-width="1.3"/>
<line x1="966.2" y1="1155.1" x2="982.5" y2="1138.4" stroke="#440154" stroke-width="1.3"/>
<line x1="1041.6" y1="1193.7" x2="1082.7" y2="1151.8" stroke="#a8db34" stroke-width="1.3"/>
<line x1="1257.6" y1="928.7" x2="1393.5" y2="786.2" stroke="#86d549" stroke-width="1.3"/>
<line x1="1120" y1="1119.8" x2="1232.9" y2="1001.2" stroke="#5ec962" stroke-width="1.3"/>
<circle cx="914.8" cy="767.3" r="2.9" fill="#3e4a89"/>
<circle cx="947.6" cy="811.1" r="2.9" fill="#c2df23"/>
<circle cx="1001" cy="805.1" r="2.9" fill="#440154"/>
<circle cx="1002.1" cy="874.1" r="2.9" fill="#31b57b"/>
<circle cx="1095" cy="865.4" r="2.9" fill="#c2df23"/>
<circle cx="893.6" cy="901.3" r="2.9" fill="#3e4a89"/>
<circle cx="1030.7" cy="914.1" r="2.9" fill="#31b57b"/>
<circle cx="1074" cy="910.7" r="2.9" fill="#5ec962"/>
<circle cx="1070.2" cy="934.4" r="2.9" fill="#5ec962"/>
<circle cx="943.4" cy="950.9" r="2.9" fill="#c2df23"/>
<circle cx="962.6" cy="950.2" r="2.9" fill="#c2df23"/>
<circle cx="941.4" cy="966.8" r="2.9" fill="#5ec962"/>
<circle cx="1061.5" cy="956.3" r="2.9" fill="#440154"/>
<circle cx="1066.7" cy="979.7" r="2.9" fill="#5ec962"/>
<circle cx="1105" cy="987.1" r="2.9" fill="#31688e"/>
<circle cx="1115.3" cy="984" r="2.9" fill="#a8db34"/>
<circle cx="988.3" cy="997.8" r="2.9" fill="#1f958b"/>
<circle cx="986.7" cy="1004.3" r="2.9" fill="#1f958b"/>
<circle cx="1003.2" cy="1012.5" r="2.9" fill="#31b57b"/>
<circle cx="1066.7" cy="995.1" r="2.9" fill="#5ec962"/>
<circle cx="901.6" cy="1018.3" r="2.9" fill="#31688e"/>
<circle cx="1030.7" cy="1025.6" r="2.9" fill="#31688e"/>
<circle cx="925.5" cy="1043" r="2.9" fill="#26828e"/>
<circle cx="865.2" cy="1061.1" r="2.9" fill="#3e4a89"/>
<circle cx="981.4" cy="1053.9" r="2.9" fill="#31b57b"/>
<circle cx="985.4" cy="1056.4" r="2.9" fill="#3e4a89"/>
<circle cx="1081.2" cy="1053.9" r="2.9" fill="#26828e"/>
<circle cx="1024.2" cy="1078.7" r="2.9" fill="#31688e"/>
<circle cx="890.5" cy="1086.1" r="2.9" fill="#1f958b"/>
<circle cx="897.8" cy="1091.9" r="2.9" fill="#3e4a89"/>
<circle cx="835.5" cy="1099" r="2.9" fill="#31b57b"/>
<circle cx="938" cy="1083" r="2.9" fill="#3e4a89"/>
<circle cx="940.7" cy="1088.1" r="2.9" fill="#26828e"/>
<circle cx="955.9" cy="1112" r="2.9" fill="#46216f"/>
<circle cx="919" cy="1129.4" r="2.9" fill="#31b57b"/>
<circle cx="982.5" cy="1128.8" r="2.9" fill="#440154"/>
<circle cx="853.6" cy="1140.6" r="2.9" fill="#31688e"/>
<circle cx="886.2" cy="1148.9" r="2.9" fill="#5ec962"/>
<circle cx="946.3" cy="1137.9" r="2.9" fill="#a8db34"/>
<circle cx="956.1" cy="1144.4" r="2.9" fill="#1f958b"/>
<circle cx="856.3" cy="1160.2" r="2.9" fill="#31b57b"/>
<circle cx="889.6" cy="1164.9" r="2.9" fill="#46216f"/>
<circle cx="915.2" cy="1169" r="2.9" fill="#1f958b"/>
<circle cx="931.3" cy="1163.4" r="2.9" fill="#31688e"/>
<circle cx="955.9" cy="1169.2" r="2.9" fill="#3e4a89"/>
<circle cx="965.7" cy="1165.2" r="2.9" fill="#440154"/>
<circle cx="1007.3" cy="1169.2" r="2.9" fill="#3e4a89"/>
<circle cx="1041.2" cy="1159.3" r="2.9" fill="#440154"/>
<circle cx="1053.9" cy="1166.5" r="2.9" fill="#a8db34"/>
<circle cx="1082.7" cy="1151.8" r="2.9" fill="#a8db34"/>
<circle cx="913.2" cy="1197.5" r="2.9" fill="#31688e"/>
<circle cx="923.5" cy="1194" r="2.9" fill="#46216f"/>
<circle cx="951.9" cy="1193.3" r="2.9" fill="#31b57b"/>
<circle cx="834" cy="1206" r="2.9" fill="#1f958b"/>
<circle cx="863" cy="1210.3" r="2.9" fill="#31688e"/>
<circle cx="917.3" cy="1209.8" r="2.9" fill="#31688e"/>
<circle cx="890.2" cy="1216.5" r="2.9" fill="#1f958b"/>
<circle cx="892.5" cy="1218.8" r="2.9" fill="#31b57b"/>
<circle cx="915.2" cy="1220.5" r="2.9" fill="#46216f"/>
<circle cx="946.1" cy="1221" r="2.9" fill="#46216f"/>
<circle cx="950.1" cy="1220.5" r="2.9" fill="#26828e"/>
<circle cx="1016.2" cy="1205.4" r="2.9" fill="#3e4a89"/>
<circle cx="1041.6" cy="1206.9" r="2.9" fill="#a8db34"/>
<circle cx="877.5" cy="1230.4" r="2.9" fill="#31688e"/>
<circle cx="921.5" cy="1259.6" r="2.9" fill="#31b57b"/>
<circle cx="824.6" cy="1299.8" r="2.9" fill="#1f958b"/>
<circle cx="1393.5" cy="748.1" r="2.9" fill="#86d549"/>
<circle cx="1157.6" cy="881" r="2.9" fill="#c2df23"/>
<circle cx="1257.6" cy="880.8" r="2.9" fill="#86d549"/>
<circle cx="1305.5" cy="963.8" r="2.9" fill="#86d549"/>
<circle cx="1120" cy="1024" r="2.9" fill="#5ec962"/>
<circle cx="1132.7" cy="1053.3" r="2.9" fill="#1f958b"/>
<circle cx="1233.4" cy="1059.2" r="2.9" fill="#5ec962"/>
<circle cx="1179.4" cy="1094.8" r="2.9" fill="#5ec962"/>
<circle cx="1138.8" cy="1135.7" r="2.9" fill="#440154"/>
<line x1="796" y1="720" x2="796" y2="1328.4" stroke="#363636" stroke-width="1.8"/>
<line x1="795.1" y1="1327.5" x2="1422" y2="1327.5" stroke="#363636" stroke-width="1.8"/>
<line x1="792" y1="846.5" x2="796" y2="846.5" stroke="#363636" stroke-width="1.5"/>
<line x1="792" y1="985.7" x2="796" y2="985.7" stroke="#363636" stroke-width="1.5"/>
<line x1="792" y1="1125" x2="796" y2="1125" stroke="#363636" stroke-width="1.5"/>
<line x1="792" y1="1264.1" x2="796" y2="1264.1" stroke="#363636" stroke-width="1.5"/>
<line x1="924" y1="1327.5" x2="924" y2="1332" stroke="#363636" stroke-width="1.5"/>
<line x1="1085.2" y1="1327.5" x2="1085.2" y2="1332" stroke="#363636" stroke-width="1.5"/>
<line x1="1246.4" y1="1327.5" x2="1246.4" y2="1332" stroke="#363636" stroke-width="1.5"/>
<line x1="1407.6" y1="1327.5" x2="1407.6" y2="1332" stroke="#363636" stroke-width="1.5"/>
<text x="787.5" y="852.8" font-size="17.5" text-anchor="end" textLength="26.1" lengthAdjust="spacingAndGlyphs" fill="#111">0.4</text>
<text x="787.5" y="992" font-size="17.5" text-anchor="end" textLength="26.1" lengthAdjust="spacingAndGlyphs" fill="#111">0.3</text>
<text x="787.5" y="1131.3" font-size="17.5" text-anchor="end" textLength="26.1" lengthAdjust="spacingAndGlyphs" fill="#111">0.2</text>
<text x="787.5" y="1270.4" font-size="17.5" text-anchor="end" textLength="26.1" lengthAdjust="spacingAndGlyphs" fill="#111">0.1</text>
<text x="937.5" y="1351.3" font-size="17.5" text-anchor="middle" textLength="26.1" lengthAdjust="spacingAndGlyphs" fill="#111">1.0</text>
<text x="1098.7" y="1351.3" font-size="17.5" text-anchor="middle" textLength="26.1" lengthAdjust="spacingAndGlyphs" fill="#111">1.4</text>
<text x="1259.9" y="1351.3" font-size="17.5" text-anchor="middle" textLength="26.1" lengthAdjust="spacingAndGlyphs" fill="#111">1.8</text>
<text x="1421.1" y="1351.3" font-size="17.5" text-anchor="middle" textLength="26.1" lengthAdjust="spacingAndGlyphs" fill="#111">2.2</text>
<text x="1292.7" y="754" font-size="17.5" font-style="italic" fill="#111">r</text>
<text x="1301" y="757.2" font-size="12.5" font-style="italic" textLength="16" lengthAdjust="spacingAndGlyphs" fill="#111">rm</text>
<text x="1322.8" y="754" font-size="17.5" textLength="53.1" lengthAdjust="spacingAndGlyphs" fill="#111">= 0.60</text>
<text x="1292.2" y="779.5" font-size="17.5" font-style="italic" fill="#111">p</text>
<text x="1307.7" y="779.5" font-size="17.5" textLength="64.3" lengthAdjust="spacingAndGlyphs" fill="#111">&lt; 0.001</text>
<text x="1013.5" y="1377.2" font-size="18" font-weight="bold" textLength="272.5" lengthAdjust="spacingAndGlyphs" fill="#000">ADC (Tissue diffusion, 10<tspan dy="-6.5" font-size="11.5">-3</tspan><tspan dy="6.5"> mm</tspan><tspan dy="-6.5" font-size="11.5">2</tspan><tspan dy="6.5">/s)</tspan></text>
<text transform="translate(749.6,1145) rotate(-90)" x="0" y="0" font-size="17.2" font-weight="bold" textLength="250" lengthAdjust="spacingAndGlyphs" fill="#000">ve (Interstitial volume fraction)</text>
<line x1="79" y1="1440.5" x2="705" y2="1440.5" stroke="#ececec" stroke-width="1.0"/>
<line x1="79" y1="1556.7" x2="705" y2="1556.7" stroke="#ececec" stroke-width="1.0"/>
<line x1="79" y1="1672.9" x2="705" y2="1672.9" stroke="#ececec" stroke-width="1.0"/>
<line x1="79" y1="1789.2" x2="705" y2="1789.2" stroke="#ececec" stroke-width="1.0"/>
<line x1="79" y1="1905.5" x2="705" y2="1905.5" stroke="#ececec" stroke-width="1.0"/>
<line x1="79" y1="2021.7" x2="705" y2="2021.7" stroke="#ececec" stroke-width="1.0"/>
<line x1="174.2" y1="1432.5" x2="174.2" y2="2039.6" stroke="#ececec" stroke-width="1.0"/>
<line x1="317.8" y1="1432.5" x2="317.8" y2="2039.6" stroke="#ececec" stroke-width="1.0"/>
<line x1="461.1" y1="1432.5" x2="461.1" y2="2039.6" stroke="#ececec" stroke-width="1.0"/>
<line x1="604.4" y1="1432.5" x2="604.4" y2="2039.6" stroke="#ececec" stroke-width="1.0"/>
<line x1="79" y1="1498.6" x2="705" y2="1498.6" stroke="#dedede" stroke-width="1.6"/>
<line x1="79" y1="1614.8" x2="705" y2="1614.8" stroke="#dedede" stroke-width="1.6"/>
<line x1="79" y1="1731.1" x2="705" y2="1731.1" stroke="#dedede" stroke-width="1.6"/>
<line x1="79" y1="1847.3" x2="705" y2="1847.3" stroke="#dedede" stroke-width="1.6"/>
<line x1="79" y1="1963.6" x2="705" y2="1963.6" stroke="#dedede" stroke-width="1.6"/>
<line x1="102.5" y1="1432.5" x2="102.5" y2="2039.6" stroke="#dedede" stroke-width="1.2"/>
<line x1="246" y1="1432.5" x2="246" y2="2039.6" stroke="#dedede" stroke-width="1.2"/>
<line x1="389.5" y1="1432.5" x2="389.5" y2="2039.6" stroke="#dedede" stroke-width="1.2"/>
<line x1="532.8" y1="1432.5" x2="532.8" y2="2039.6" stroke="#dedede" stroke-width="1.2"/>
<line x1="676" y1="1432.5" x2="676" y2="2039.6" stroke="#dedede" stroke-width="1.2"/>
<line x1="167.8" y1="1656.2" x2="211.3" y2="1611.3" stroke="#31688e" stroke-width="1.3"/>
<line x1="140.3" y1="1764" x2="334.4" y2="1562.2" stroke="#1f958b" stroke-width="1.3"/>
<line x1="191" y1="1716.5" x2="332.6" y2="1569.4" stroke="#5ec962" stroke-width="1.3"/>
<line x1="120.9" y1="1819.3" x2="218" y2="1718.1" stroke="#31688e" stroke-width="1.3"/>
<line x1="211.7" y1="1791.4" x2="360.3" y2="1637.2" stroke="#1f958b" stroke-width="1.3"/>
<line x1="279.9" y1="1739" x2="365.6" y2="1650.5" stroke="#46216f" stroke-width="1.3"/>
<line x1="302.8" y1="1738.2" x2="354.8" y2="1684.4" stroke="#a8db34" stroke-width="1.3"/>
<line x1="371.9" y1="1701.5" x2="431.5" y2="1639.5" stroke="#e2e418" stroke-width="1.3"/>
<line x1="129.3" y1="1936.6" x2="326.8" y2="1729.1" stroke="#1f958b" stroke-width="1.3"/>
<line x1="159.8" y1="1903.8" x2="185.8" y2="1878" stroke="#31b57b" stroke-width="1.3"/>
<line x1="233" y1="1861.8" x2="379.6" y2="1709.8" stroke="#a8db34" stroke-width="1.3"/>
<line x1="293.9" y1="1813.1" x2="322.3" y2="1783.6" stroke="#a8db34" stroke-width="1.3"/>
<line x1="250.4" y1="1863.3" x2="348.3" y2="1762.3" stroke="#31688e" stroke-width="1.3"/>
<line x1="107.7" y1="1814.4" x2="154.7" y2="1766" stroke="#5ec962" stroke-width="1.3"/>
<line x1="137.4" y1="1833.6" x2="143.3" y2="1827.7" stroke="#3e4a89" stroke-width="1.3"/>
<line x1="143.3" y1="1847.2" x2="224.9" y2="1761.8" stroke="#31688e" stroke-width="1.3"/>
<line x1="177.2" y1="1821.7" x2="192.1" y2="1806.1" stroke="#46216f" stroke-width="1.3"/>
<line x1="202.2" y1="1800.9" x2="211.7" y2="1791.4" stroke="#c2df23" stroke-width="1.3"/>
<line x1="200.2" y1="1846.3" x2="253.5" y2="1791" stroke="#46216f" stroke-width="1.3"/>
<line x1="223.2" y1="1836.8" x2="256.3" y2="1805.4" stroke="#5ec962" stroke-width="1.3"/>
<line x1="184.4" y1="1928.2" x2="238.9" y2="1872.4" stroke="#46216f" stroke-width="1.3"/>
<line x1="168.9" y1="1958.2" x2="236.5" y2="1889.1" stroke="#3e4a89" stroke-width="1.3"/>
<line x1="213.7" y1="1921.9" x2="293" y2="1840" stroke="#1f958b" stroke-width="1.3"/>
<line x1="228.4" y1="1860.9" x2="247.7" y2="1841.2" stroke="#31688e" stroke-width="1.3"/>
<line x1="199.7" y1="2011.8" x2="270.3" y2="1935.2" stroke="#46216f" stroke-width="1.3"/>
<line x1="264.4" y1="1920.5" x2="268.9" y2="1915.6" stroke="#440154" stroke-width="1.3"/>
<line x1="279.1" y1="1759.3" x2="286.7" y2="1751.2" stroke="#3e4a89" stroke-width="1.3"/>
<line x1="510.2" y1="1844.3" x2="676" y2="1673.3" stroke="#a8db34" stroke-width="1.3"/>
<line x1="396.3" y1="1966.5" x2="515.2" y2="1843.4" stroke="#5ec962" stroke-width="1.3"/>
<circle cx="297.1" cy="1459.9" r="2.9" fill="#5ec962"/>
<circle cx="334.4" cy="1494.1" r="2.9" fill="#31b57b"/>
<circle cx="195.9" cy="1568.2" r="2.9" fill="#31b57b"/>
<circle cx="157.5" cy="1589" r="2.9" fill="#e2e418"/>
<circle cx="211.3" cy="1601.5" r="2.9" fill="#31688e"/>
<circle cx="371.6" cy="1613.3" r="2.9" fill="#e2e418"/>
<circle cx="379.5" cy="1618.3" r="2.9" fill="#a8db34"/>
<circle cx="107.2" cy="1633.7" r="2.9" fill="#31b57b"/>
<circle cx="365.6" cy="1642.8" r="2.9" fill="#440154"/>
<circle cx="292.4" cy="1659.6" r="2.9" fill="#440154"/>
<circle cx="167.5" cy="1665.6" r="2.9" fill="#31688e"/>
<circle cx="192.3" cy="1669.8" r="2.9" fill="#26828e"/>
<circle cx="332.6" cy="1667.2" r="2.9" fill="#31b57b"/>
<circle cx="360.3" cy="1672.3" r="2.9" fill="#1f958b"/>
<circle cx="218" cy="1681" r="2.9" fill="#31688e"/>
<circle cx="286.8" cy="1682.8" r="2.9" fill="#31688e"/>
<circle cx="225.2" cy="1691.7" r="2.9" fill="#26828e"/>
<circle cx="337.9" cy="1691.3" r="2.9" fill="#a8db34"/>
<circle cx="207.3" cy="1708" r="2.9" fill="#e2e418"/>
<circle cx="222.5" cy="1709.8" r="2.9" fill="#86d549"/>
<circle cx="302.2" cy="1710.5" r="2.9" fill="#e2e418"/>
<circle cx="253.5" cy="1718.1" r="2.9" fill="#440154"/>
<circle cx="354.7" cy="1722.1" r="2.9" fill="#a8db34"/>
<circle cx="375" cy="1721.6" r="2.9" fill="#e2e418"/>
<circle cx="335.2" cy="1738.6" r="2.9" fill="#86d549"/>
<circle cx="192.1" cy="1745.6" r="2.9" fill="#3e4a89"/>
<circle cx="195.7" cy="1748.3" r="2.9" fill="#3e4a89"/>
<circle cx="232.3" cy="1749.2" r="2.9" fill="#3e4a89"/>
<circle cx="212" cy="1755" r="2.9" fill="#1f958b"/>
<circle cx="348.4" cy="1752.6" r="2.9" fill="#26828e"/>
<circle cx="190.5" cy="1765.3" r="2.9" fill="#86d549"/>
<circle cx="191" cy="1767.1" r="2.9" fill="#5ec962"/>
<circle cx="223.6" cy="1767.5" r="2.9" fill="#31b57b"/>
<circle cx="231.2" cy="1767.1" r="2.9" fill="#31688e"/>
<circle cx="293.5" cy="1768" r="2.9" fill="#86d549"/>
<circle cx="140.1" cy="1776" r="2.9" fill="#31b57b"/>
<circle cx="253.5" cy="1770.6" r="2.9" fill="#46216f"/>
<circle cx="256.4" cy="1776.7" r="2.9" fill="#1f958b"/>
<circle cx="292.6" cy="1784.7" r="2.9" fill="#1f958b"/>
<circle cx="322.3" cy="1782.5" r="2.9" fill="#3e4a89"/>
<circle cx="316.7" cy="1797.7" r="2.9" fill="#86d549"/>
<circle cx="322.1" cy="1800.3" r="2.9" fill="#26828e"/>
<circle cx="137.2" cy="1811.1" r="2.9" fill="#31688e"/>
<circle cx="238.3" cy="1814.6" r="2.9" fill="#1f958b"/>
<circle cx="256.2" cy="1812.6" r="2.9" fill="#5ec962"/>
<circle cx="279.9" cy="1812.6" r="2.9" fill="#3e4a89"/>
<circle cx="325" cy="1817.3" r="2.9" fill="#86d549"/>
<circle cx="146.3" cy="1828.9" r="2.9" fill="#3e4a89"/>
<circle cx="239.2" cy="1823.8" r="2.9" fill="#3e4a89"/>
<circle cx="201.7" cy="1835.2" r="2.9" fill="#e2e418"/>
<circle cx="236.5" cy="1835.8" r="2.9" fill="#31688e"/>
<circle cx="278.5" cy="1827.4" r="2.9" fill="#31688e"/>
<circle cx="211.8" cy="1844.3" r="2.9" fill="#e2e418"/>
<circle cx="143.2" cy="1849.5" r="2.9" fill="#26828e"/>
<circle cx="326.8" cy="1856.2" r="2.9" fill="#86d549"/>
<circle cx="247.9" cy="1862.2" r="2.9" fill="#26828e"/>
<circle cx="250.4" cy="1863.3" r="2.9" fill="#26828e"/>
<circle cx="258.9" cy="1858.2" r="2.9" fill="#5ec962"/>
<circle cx="142.5" cy="1870" r="2.9" fill="#31688e"/>
<circle cx="159.3" cy="1866.2" r="2.9" fill="#31b57b"/>
<circle cx="161.5" cy="1874.3" r="2.9" fill="#26828e"/>
<circle cx="200.1" cy="1866.7" r="2.9" fill="#3e4a89"/>
<circle cx="228.3" cy="1875.6" r="2.9" fill="#1f958b"/>
<circle cx="176.7" cy="1882.3" r="2.9" fill="#3e4a89"/>
<circle cx="113.3" cy="1889.7" r="2.9" fill="#31b57b"/>
<circle cx="120.4" cy="1894.4" r="2.9" fill="#26828e"/>
<circle cx="178.3" cy="1892.6" r="2.9" fill="#31b57b"/>
<circle cx="396.2" cy="1888.3" r="2.9" fill="#86d549"/>
<circle cx="185.9" cy="1907.5" r="2.9" fill="#31b57b"/>
<circle cx="199" cy="1905.3" r="2.9" fill="#46216f"/>
<circle cx="264" cy="1908.9" r="2.9" fill="#440154"/>
<circle cx="268.9" cy="1927.2" r="2.9" fill="#440154"/>
<circle cx="270.9" cy="1933" r="2.9" fill="#46216f"/>
<circle cx="155" cy="1946.4" r="2.9" fill="#5ec962"/>
<circle cx="114.6" cy="1966" r="2.9" fill="#1f958b"/>
<circle cx="129.4" cy="1964.9" r="2.9" fill="#1f958b"/>
<circle cx="189.9" cy="1967.6" r="2.9" fill="#31688e"/>
<circle cx="231.9" cy="1970.3" r="2.9" fill="#a8db34"/>
<circle cx="213.3" cy="1976.8" r="2.9" fill="#31b57b"/>
<circle cx="168.9" cy="1981.2" r="2.9" fill="#3e4a89"/>
<circle cx="184.1" cy="1984.8" r="2.9" fill="#46216f"/>
<circle cx="199.7" cy="2011.8" r="2.9" fill="#46216f"/>
<circle cx="431.5" cy="1703.8" r="2.9" fill="#e2e418"/>
<circle cx="510.2" cy="1745.2" r="2.9" fill="#a8db34"/>
<circle cx="676" cy="1701.1" r="2.9" fill="#a8db34"/>
<circle cx="638.1" cy="1783.6" r="2.9" fill="#a8db34"/>
<circle cx="515.2" cy="1917.7" r="2.9" fill="#5ec962"/>
<circle cx="423.5" cy="1942" r="2.9" fill="#5ec962"/>
<line x1="79" y1="1432.5" x2="79" y2="2040.5" stroke="#363636" stroke-width="1.8"/>
<line x1="78.1" y1="2039.6" x2="705" y2="2039.6" stroke="#363636" stroke-width="1.8"/>
<line x1="75" y1="1498.6" x2="79" y2="1498.6" stroke="#363636" stroke-width="1.5"/>
<line x1="75" y1="1614.8" x2="79" y2="1614.8" stroke="#363636" stroke-width="1.5"/>
<line x1="75" y1="1731.1" x2="79" y2="1731.1" stroke="#363636" stroke-width="1.5"/>
<line x1="75" y1="1847.3" x2="79" y2="1847.3" stroke="#363636" stroke-width="1.5"/>
<line x1="75" y1="1963.6" x2="79" y2="1963.6" stroke="#363636" stroke-width="1.5"/>
<line x1="102.5" y1="2039.6" x2="102.5" y2="2044.1" stroke="#363636" stroke-width="1.5"/>
<line x1="246" y1="2039.6" x2="246" y2="2044.1" stroke="#363636" stroke-width="1.5"/>
<line x1="389.5" y1="2039.6" x2="389.5" y2="2044.1" stroke="#363636" stroke-width="1.5"/>
<line x1="532.8" y1="2039.6" x2="532.8" y2="2044.1" stroke="#363636" stroke-width="1.5"/>
<line x1="676" y1="2039.6" x2="676" y2="2044.1" stroke="#363636" stroke-width="1.5"/>
<text x="70.5" y="1504.9" font-size="17.5" text-anchor="end" textLength="26.1" lengthAdjust="spacingAndGlyphs" fill="#111">0.7</text>
<text x="70.5" y="1621.1" font-size="17.5" text-anchor="end" textLength="26.1" lengthAdjust="spacingAndGlyphs" fill="#111">0.6</text>
<text x="70.5" y="1737.4" font-size="17.5" text-anchor="end" textLength="26.1" lengthAdjust="spacingAndGlyphs" fill="#111">0.5</text>
<text x="70.5" y="1853.6" font-size="17.5" text-anchor="end" textLength="26.1" lengthAdjust="spacingAndGlyphs" fill="#111">0.4</text>
<text x="70.5" y="1969.9" font-size="17.5" text-anchor="end" textLength="26.1" lengthAdjust="spacingAndGlyphs" fill="#111">0.3</text>
<text x="116" y="2063" font-size="17.5" text-anchor="middle" textLength="26.1" lengthAdjust="spacingAndGlyphs" fill="#111">0.6</text>
<text x="259.5" y="2063" font-size="17.5" text-anchor="middle" textLength="26.1" lengthAdjust="spacingAndGlyphs" fill="#111">0.9</text>
<text x="403" y="2063" font-size="17.5" text-anchor="middle" textLength="26.1" lengthAdjust="spacingAndGlyphs" fill="#111">1.2</text>
<text x="546.3" y="2063" font-size="17.5" text-anchor="middle" textLength="26.1" lengthAdjust="spacingAndGlyphs" fill="#111">1.5</text>
<text x="689.5" y="2063" font-size="17.5" text-anchor="middle" textLength="26.1" lengthAdjust="spacingAndGlyphs" fill="#111">1.8</text>
<text x="575.2" y="1465.5" font-size="17.5" font-style="italic" fill="#111">r</text>
<text x="583.5" y="1468.7" font-size="12.5" font-style="italic" textLength="16" lengthAdjust="spacingAndGlyphs" fill="#111">rm</text>
<text x="605.3" y="1465.5" font-size="17.5" textLength="53.1" lengthAdjust="spacingAndGlyphs" fill="#111">= 0.56</text>
<text x="574.7" y="1490.7" font-size="17.5" font-style="italic" fill="#111">p</text>
<text x="590.2" y="1490.7" font-size="17.5" textLength="64.3" lengthAdjust="spacingAndGlyphs" fill="#111">&lt; 0.001</text>
<text x="304" y="2089.1" font-size="18" font-weight="bold" textLength="257" lengthAdjust="spacingAndGlyphs" fill="#000">Dt (Tissue diffusion, 10<tspan dy="-6.5" font-size="11.5">-3</tspan><tspan dy="6.5"> mm</tspan><tspan dy="-6.5" font-size="11.5">2</tspan><tspan dy="6.5">/s)</tspan></text>
<text transform="translate(31.7,1867.5) rotate(-90)" x="0" y="0" font-size="17.2" font-weight="bold" textLength="270" lengthAdjust="spacingAndGlyphs" fill="#000">vd (Extracellular volume fraction)</text>
<line x1="796" y1="1440.5" x2="1422.6" y2="1440.5" stroke="#ececec" stroke-width="1.0"/>
<line x1="796" y1="1556.7" x2="1422.6" y2="1556.7" stroke="#ececec" stroke-width="1.0"/>
<line x1="796" y1="1672.9" x2="1422.6" y2="1672.9" stroke="#ececec" stroke-width="1.0"/>
<line x1="796" y1="1789.2" x2="1422.6" y2="1789.2" stroke="#ececec" stroke-width="1.0"/>
<line x1="796" y1="1905.5" x2="1422.6" y2="1905.5" stroke="#ececec" stroke-width="1.0"/>
<line x1="796" y1="2021.7" x2="1422.6" y2="2021.7" stroke="#ececec" stroke-width="1.0"/>
<line x1="847.5" y1="1432.5" x2="847.5" y2="2039.5" stroke="#ececec" stroke-width="1.0"/>
<line x1="1040.6" y1="1432.5" x2="1040.6" y2="2039.5" stroke="#ececec" stroke-width="1.0"/>
<line x1="1233.7" y1="1432.5" x2="1233.7" y2="2039.5" stroke="#ececec" stroke-width="1.0"/>
<line x1="796" y1="1498.6" x2="1422.6" y2="1498.6" stroke="#dedede" stroke-width="1.6"/>
<line x1="796" y1="1614.8" x2="1422.6" y2="1614.8" stroke="#dedede" stroke-width="1.6"/>
<line x1="796" y1="1731.1" x2="1422.6" y2="1731.1" stroke="#dedede" stroke-width="1.6"/>
<line x1="796" y1="1847.3" x2="1422.6" y2="1847.3" stroke="#dedede" stroke-width="1.6"/>
<line x1="796" y1="1963.6" x2="1422.6" y2="1963.6" stroke="#dedede" stroke-width="1.6"/>
<line x1="944" y1="1432.5" x2="944" y2="2039.5" stroke="#dedede" stroke-width="1.2"/>
<line x1="1137.1" y1="1432.5" x2="1137.1" y2="2039.5" stroke="#dedede" stroke-width="1.2"/>
<line x1="1330.2" y1="1432.5" x2="1330.2" y2="2039.5" stroke="#dedede" stroke-width="1.2"/>
<line x1="908.5" y1="1729" x2="1046.6" y2="1564.7" stroke="#5ec962" stroke-width="1.3"/>
<line x1="897" y1="1749" x2="1060" y2="1555.7" stroke="#1f958b" stroke-width="1.3"/>
<line x1="951.6" y1="1644.4" x2="969.5" y2="1622.7" stroke="#31688e" stroke-width="1.3"/>
<line x1="877.1" y1="1808.8" x2="957.7" y2="1713.6" stroke="#31688e" stroke-width="1.3"/>
<line x1="934" y1="1782" x2="974.9" y2="1733.8" stroke="#3e4a89" stroke-width="1.3"/>
<line x1="886.2" y1="1869.8" x2="1012" y2="1722.1" stroke="#31688e" stroke-width="1.3"/>
<line x1="960.1" y1="1814.2" x2="1046.6" y2="1707.6" stroke="#26828e" stroke-width="1.3"/>
<line x1="1028.2" y1="1781.4" x2="1149.6" y2="1639.9" stroke="#26828e" stroke-width="1.3"/>
<line x1="966.8" y1="1868.5" x2="1086.3" y2="1725.9" stroke="#a8db34" stroke-width="1.3"/>
<line x1="1057.3" y1="1727" x2="1095.9" y2="1681.9" stroke="#a8db34" stroke-width="1.3"/>
<line x1="1107.9" y1="1711.2" x2="1167.5" y2="1640.2" stroke="#e2e418" stroke-width="1.3"/>
<line x1="825" y1="1822.2" x2="879.5" y2="1757.5" stroke="#5ec962" stroke-width="1.3"/>
<line x1="879.3" y1="1860.6" x2="930.7" y2="1799.7" stroke="#31688e" stroke-width="1.3"/>
<line x1="936.2" y1="1828.3" x2="953.7" y2="1808.2" stroke="#46216f" stroke-width="1.3"/>
<line x1="849.1" y1="1964.3" x2="1004.1" y2="1776.4" stroke="#1f958b" stroke-width="1.3"/>
<line x1="963.5" y1="1803.7" x2="1010.4" y2="1752.3" stroke="#a8db34" stroke-width="1.3"/>
<line x1="946.3" y1="1867.3" x2="974.6" y2="1833.2" stroke="#31688e" stroke-width="1.3"/>
<line x1="914.4" y1="1921.6" x2="971.3" y2="1853.9" stroke="#31b57b" stroke-width="1.3"/>
<line x1="911.5" y1="1942.1" x2="974.6" y2="1866.9" stroke="#46216f" stroke-width="1.3"/>
<line x1="936.2" y1="1922" x2="1020" y2="1823.1" stroke="#1f958b" stroke-width="1.3"/>
<line x1="899.8" y1="1980.8" x2="1003.2" y2="1861.8" stroke="#3e4a89" stroke-width="1.3"/>
<line x1="984.3" y1="1927.2" x2="1000.3" y2="1908.2" stroke="#440154" stroke-width="1.3"/>
<line x1="965.5" y1="2011.1" x2="1032.7" y2="1932.5" stroke="#46216f" stroke-width="1.3"/>
<line x1="1040.3" y1="1857.3" x2="1117" y2="1765" stroke="#26828e" stroke-width="1.3"/>
<line x1="1083" y1="1797" x2="1087.4" y2="1790.3" stroke="#86d549" stroke-width="1.3"/>
<line x1="1264.1" y1="1812.5" x2="1393.5" y2="1658.1" stroke="#a8db34" stroke-width="1.3"/>
<line x1="1132" y1="1981" x2="1240" y2="1852.1" stroke="#5ec962" stroke-width="1.3"/>
<circle cx="1018.9" cy="1459.9" r="2.9" fill="#5ec962"/>
<circle cx="1060" cy="1494.1" r="2.9" fill="#31b57b"/>
<circle cx="951.4" cy="1568" r="2.9" fill="#31b57b"/>
<circle cx="866.6" cy="1589" r="2.9" fill="#e2e418"/>
<circle cx="969.3" cy="1601.5" r="2.9" fill="#31688e"/>
<circle cx="824.6" cy="1633.7" r="2.9" fill="#31b57b"/>
<circle cx="1085.9" cy="1618.3" r="2.9" fill="#a8db34"/>
<circle cx="1107.7" cy="1613.1" r="2.9" fill="#e2e418"/>
<circle cx="1075.8" cy="1659.6" r="2.9" fill="#440154"/>
<circle cx="922.8" cy="1669.6" r="2.9" fill="#26828e"/>
<circle cx="951.4" cy="1665.4" r="2.9" fill="#31688e"/>
<circle cx="1046.6" cy="1666.7" r="2.9" fill="#5ec962"/>
<circle cx="957.7" cy="1681" r="2.9" fill="#3e4a89"/>
<circle cx="1012" cy="1691.3" r="2.9" fill="#31688e"/>
<circle cx="1046.6" cy="1682.6" r="2.9" fill="#31688e"/>
<circle cx="1096.1" cy="1691.3" r="2.9" fill="#a8db34"/>
<circle cx="960.8" cy="1709.6" r="2.9" fill="#5ec962"/>
<circle cx="967.1" cy="1708" r="2.9" fill="#e2e418"/>
<circle cx="1017.8" cy="1717.6" r="2.9" fill="#440154"/>
<circle cx="1056.8" cy="1721.9" r="2.9" fill="#e2e418"/>
<circle cx="1068.4" cy="1710.5" r="2.9" fill="#a8db34"/>
<circle cx="1080.3" cy="1738.6" r="2.9" fill="#86d549"/>
<circle cx="915.3" cy="1745.6" r="2.9" fill="#3e4a89"/>
<circle cx="935.3" cy="1747.9" r="2.9" fill="#3e4a89"/>
<circle cx="974.9" cy="1748.8" r="2.9" fill="#3e4a89"/>
<circle cx="1028.2" cy="1754.8" r="2.9" fill="#1f958b"/>
<circle cx="908.1" cy="1764.8" r="2.9" fill="#86d549"/>
<circle cx="911.7" cy="1766.6" r="2.9" fill="#31b57b"/>
<circle cx="934" cy="1766.6" r="2.9" fill="#31688e"/>
<circle cx="940" cy="1767.3" r="2.9" fill="#31b57b"/>
<circle cx="953.4" cy="1770.4" r="2.9" fill="#46216f"/>
<circle cx="896.7" cy="1775.6" r="2.9" fill="#31b57b"/>
<circle cx="1004.1" cy="1776.4" r="2.9" fill="#1f958b"/>
<circle cx="1005.5" cy="1784.3" r="2.9" fill="#31b57b"/>
<circle cx="1023.8" cy="1782.3" r="2.9" fill="#3e4a89"/>
<circle cx="1087.4" cy="1767.7" r="2.9" fill="#86d549"/>
<circle cx="1083.8" cy="1797.2" r="2.9" fill="#86d549"/>
<circle cx="1094.3" cy="1799.7" r="2.9" fill="#26828e"/>
<circle cx="930.7" cy="1810.8" r="2.9" fill="#26828e"/>
<circle cx="960.1" cy="1814.2" r="2.9" fill="#1f958b"/>
<circle cx="1020" cy="1812.4" r="2.9" fill="#5ec962"/>
<circle cx="1056.2" cy="1812.2" r="2.9" fill="#440154"/>
<circle cx="1080.3" cy="1816.6" r="2.9" fill="#86d549"/>
<circle cx="888" cy="1828.5" r="2.9" fill="#3e4a89"/>
<circle cx="966.4" cy="1826.9" r="2.9" fill="#31688e"/>
<circle cx="974.6" cy="1823.3" r="2.9" fill="#46216f"/>
<circle cx="962.6" cy="1835.2" r="2.9" fill="#e2e418"/>
<circle cx="1003.2" cy="1835.2" r="2.9" fill="#3e4a89"/>
<circle cx="981.1" cy="1843.7" r="2.9" fill="#e2e418"/>
<circle cx="879.1" cy="1849" r="2.9" fill="#26828e"/>
<circle cx="999.2" cy="1857.3" r="2.9" fill="#5ec962"/>
<circle cx="1009.9" cy="1855.7" r="2.9" fill="#86d549"/>
<circle cx="975.1" cy="1862.2" r="2.9" fill="#1f958b"/>
<circle cx="1040.3" cy="1862.6" r="2.9" fill="#26828e"/>
<circle cx="886.2" cy="1869.8" r="2.9" fill="#31688e"/>
<circle cx="914.1" cy="1865.6" r="2.9" fill="#31b57b"/>
<circle cx="936" cy="1866.2" r="2.9" fill="#3e4a89"/>
<circle cx="912.3" cy="1874" r="2.9" fill="#26828e"/>
<circle cx="945.8" cy="1875.2" r="2.9" fill="#1f958b"/>
<circle cx="919" cy="1881.9" r="2.9" fill="#3e4a89"/>
<circle cx="859.6" cy="1889.2" r="2.9" fill="#31b57b"/>
<circle cx="876.8" cy="1893.9" r="2.9" fill="#26828e"/>
<circle cx="941.6" cy="1892.1" r="2.9" fill="#31b57b"/>
<circle cx="943.6" cy="1905.1" r="2.9" fill="#46216f"/>
<circle cx="971.1" cy="1906.9" r="2.9" fill="#31b57b"/>
<circle cx="984" cy="1908.4" r="2.9" fill="#440154"/>
<circle cx="999.9" cy="1926.7" r="2.9" fill="#440154"/>
<circle cx="1032.7" cy="1932.5" r="2.9" fill="#46216f"/>
<circle cx="879.5" cy="1945.9" r="2.9" fill="#5ec962"/>
<circle cx="849.1" cy="1964.3" r="2.9" fill="#1f958b"/>
<circle cx="858.1" cy="1965.6" r="2.9" fill="#1f958b"/>
<circle cx="938" cy="1967.2" r="2.9" fill="#3e4a89"/>
<circle cx="935.8" cy="1976.3" r="2.9" fill="#31b57b"/>
<circle cx="965.7" cy="1969.8" r="2.9" fill="#a8db34"/>
<circle cx="899.8" cy="1980.8" r="2.9" fill="#3e4a89"/>
<circle cx="911" cy="1984.4" r="2.9" fill="#46216f"/>
<circle cx="965.5" cy="2011.1" r="2.9" fill="#46216f"/>
<circle cx="1149.6" cy="1642.5" r="2.9" fill="#440154"/>
<circle cx="1143.7" cy="1672.2" r="2.9" fill="#1f958b"/>
<circle cx="1167.5" cy="1703.3" r="2.9" fill="#e2e418"/>
<circle cx="1128.1" cy="1721.5" r="2.9" fill="#e2e418"/>
<circle cx="1117.3" cy="1752.3" r="2.9" fill="#26828e"/>
<circle cx="1263.5" cy="1745" r="2.9" fill="#a8db34"/>
<circle cx="1393.5" cy="1700.7" r="2.9" fill="#a8db34"/>
<circle cx="1309.6" cy="1783.4" r="2.9" fill="#a8db34"/>
<circle cx="1131.4" cy="1888" r="2.9" fill="#86d549"/>
<circle cx="1240" cy="1917.3" r="2.9" fill="#5ec962"/>
<circle cx="1188.9" cy="1941.4" r="2.9" fill="#5ec962"/>
<line x1="796" y1="1432.5" x2="796" y2="2040.4" stroke="#363636" stroke-width="1.8"/>
<line x1="795.1" y1="2039.5" x2="1422.6" y2="2039.5" stroke="#363636" stroke-width="1.8"/>
<line x1="792" y1="1498.6" x2="796" y2="1498.6" stroke="#363636" stroke-width="1.5"/>
<line x1="792" y1="1614.8" x2="796" y2="1614.8" stroke="#363636" stroke-width="1.5"/>
<line x1="792" y1="1731.1" x2="796" y2="1731.1" stroke="#363636" stroke-width="1.5"/>
<line x1="792" y1="1847.3" x2="796" y2="1847.3" stroke="#363636" stroke-width="1.5"/>
<line x1="792" y1="1963.6" x2="796" y2="1963.6" stroke="#363636" stroke-width="1.5"/>
<line x1="944" y1="2039.5" x2="944" y2="2044" stroke="#363636" stroke-width="1.5"/>
<line x1="1137.1" y1="2039.5" x2="1137.1" y2="2044" stroke="#363636" stroke-width="1.5"/>
<line x1="1330.2" y1="2039.5" x2="1330.2" y2="2044" stroke="#363636" stroke-width="1.5"/>
<text x="787.5" y="1504.9" font-size="17.5" text-anchor="end" textLength="26.1" lengthAdjust="spacingAndGlyphs" fill="#111">0.7</text>
<text x="787.5" y="1621.1" font-size="17.5" text-anchor="end" textLength="26.1" lengthAdjust="spacingAndGlyphs" fill="#111">0.6</text>
<text x="787.5" y="1737.4" font-size="17.5" text-anchor="end" textLength="26.1" lengthAdjust="spacingAndGlyphs" fill="#111">0.5</text>
<text x="787.5" y="1853.6" font-size="17.5" text-anchor="end" textLength="26.1" lengthAdjust="spacingAndGlyphs" fill="#111">0.4</text>
<text x="787.5" y="1969.9" font-size="17.5" text-anchor="end" textLength="26.1" lengthAdjust="spacingAndGlyphs" fill="#111">0.3</text>
<text x="957.5" y="2063" font-size="17.5" text-anchor="middle" textLength="26.1" lengthAdjust="spacingAndGlyphs" fill="#111">1.0</text>
<text x="1150.6" y="2063" font-size="17.5" text-anchor="middle" textLength="26.1" lengthAdjust="spacingAndGlyphs" fill="#111">1.5</text>
<text x="1343.7" y="2063" font-size="17.5" text-anchor="middle" textLength="26.1" lengthAdjust="spacingAndGlyphs" fill="#111">2.0</text>
<text x="1292.7" y="1465.2" font-size="17.5" font-style="italic" fill="#111">r</text>
<text x="1301" y="1468.4" font-size="12.5" font-style="italic" textLength="16" lengthAdjust="spacingAndGlyphs" fill="#111">rm</text>
<text x="1322.8" y="1465.2" font-size="17.5" textLength="53.1" lengthAdjust="spacingAndGlyphs" fill="#111">= 0.62</text>
<text x="1292.2" y="1490.2" font-size="17.5" font-style="italic" fill="#111">p</text>
<text x="1307.7" y="1490.2" font-size="17.5" textLength="64.3" lengthAdjust="spacingAndGlyphs" fill="#111">&lt; 0.001</text>
<text x="1013.5" y="2089.1" font-size="18" font-weight="bold" textLength="272.5" lengthAdjust="spacingAndGlyphs" fill="#000">ADC (Tissue diffusion, 10<tspan dy="-6.5" font-size="11.5">-3</tspan><tspan dy="6.5"> mm</tspan><tspan dy="-6.5" font-size="11.5">2</tspan><tspan dy="6.5">/s)</tspan></text>
<text transform="translate(749.6,1867.5) rotate(-90)" x="0" y="0" font-size="17.2" font-weight="bold" textLength="270" lengthAdjust="spacingAndGlyphs" fill="#000">vd (Extracellular volume fraction)</text>
<rect x="1430.8" y="700" width="3" height="1395" fill="#fff"/>
</svg></body></html>
